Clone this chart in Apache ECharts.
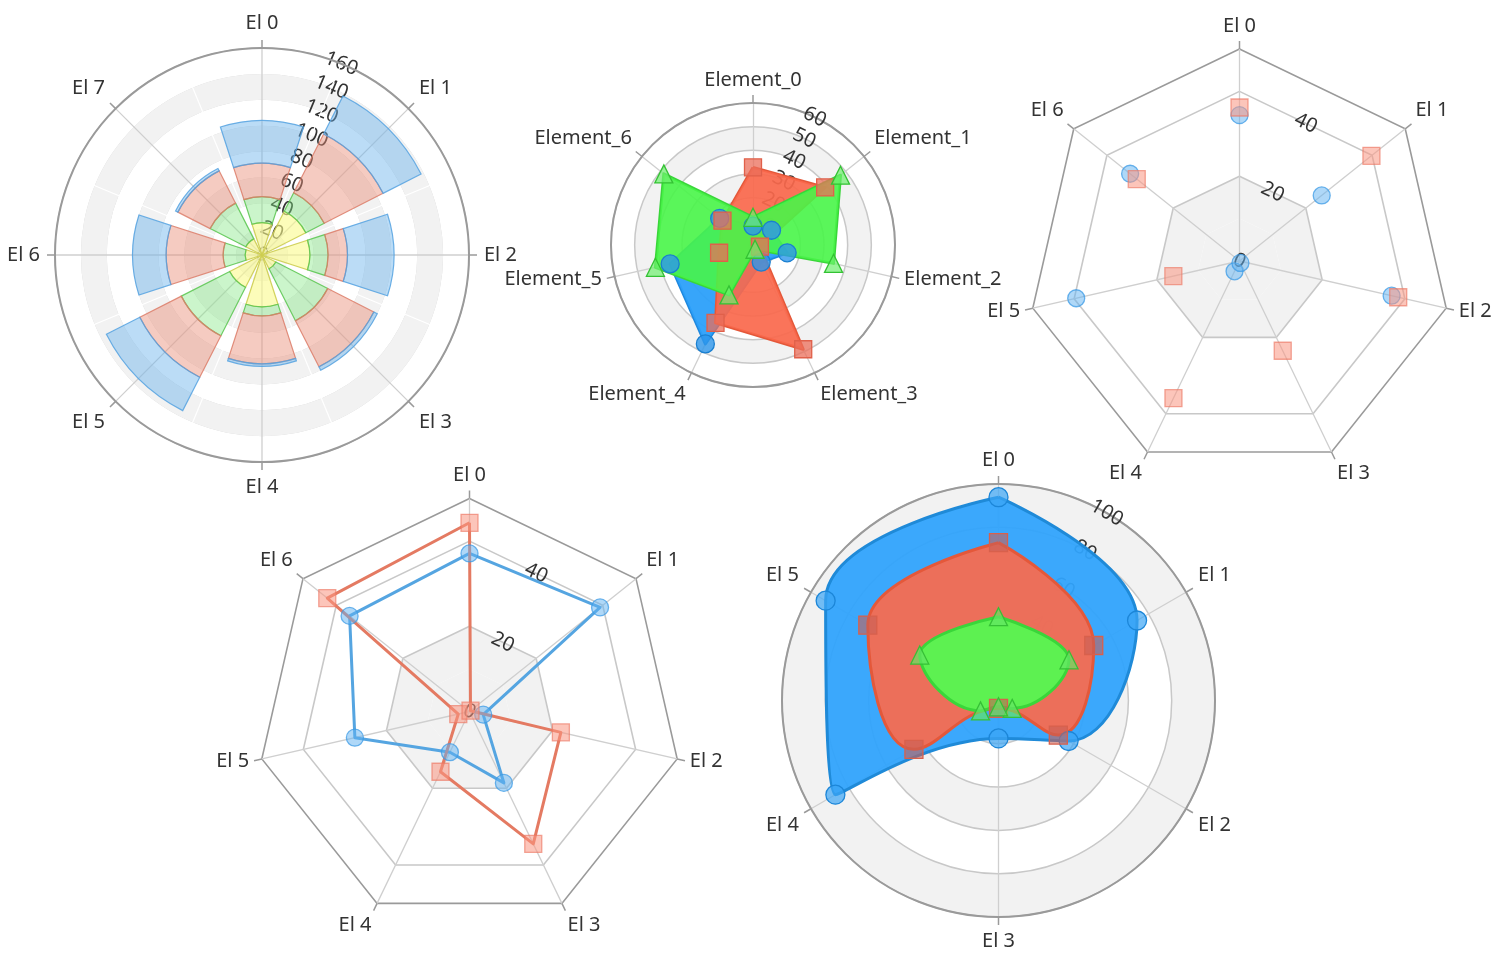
<!DOCTYPE html>
<html>
<head>
<meta charset="utf-8">
<script src="https://cdn.jsdelivr.net/npm/echarts@6/dist/echarts.min.js"></script>
<style>
html,body{margin:0;padding:0;background:#ffffff;}
#c{width:1511px;height:979px;}
</style>
</head>
<body>
<div id="c"></div>
<script>
// ---------------- data ----------------
// Chart 1 (stacked polar bars)
const c1Cats = ['El 0','El 1','El 2','El 3','El 4','El 5','El 6','El 7'];
const c1Yellow = [25, 38, 37, 12, 40, 28, 13, 14];
const c1Green  = [20, 16, 14, 45, 7, 42, 17, 31];
const c1Red    = [26, 51, 15, 40, 37, 36, 44, 28];
const c1Blue   = [33, 33, 36, 3, 2, 29, 26, 2];
const c1Max = 160, c1Step = 20;

// Chart 2 (circle radar, filled)
const c2Cats = ['Element_0','Element_1','Element_2','Element_3','Element_4','Element_5','Element_6'];
const c2Blue  = [8, 10, 14.8, 8, 46.4, 35.9, 18];
const c2Red   = [32.8, 39, 3, 48.9, 36.5, 14.7, 16.5];
const c2Green = [11.7, 47.3, 34.9, 2, 23.4, 42.3, 48.2];
const c2Max = 60, c2Step = 10;

// Chart 3 (polygon radar, markers only)
const c3Cats = ['El 0','El 1','El 2','El 3','El 4','El 5','El 6'];
const c3Blue = [34.4, 24.8, 36.8, 0.5, 2.7, 39.5, 33];
const c3Red  = [36.2, 39.8, 38.4, 23.5, 35.9, 16, 31];
const c3Max = 50, c3Step = 20;

// Chart 4 (polygon radar, lines)
const c4Cats = ['El 0','El 1','El 2','El 3','El 4','El 5','El 6'];
const c4Blue = [37.1, 39.2, 3.3, 18.6, 10.6, 27.6, 36];
const c4Red  = [44.3, 0.3, 22, 34.5, 15.7, 2.7, 42.7];
const c4Max = 50, c4Step = 20;

// Chart 5 (circle, smooth filled areas)
const c5Cats = ['El 0','El 1','El 2','El 3','El 4','El 5'];
const c5Blue  = [93.9, 73.9, 37.4, 17.5, 87, 92.2];
const c5Red   = [72.9, 50.8, 31.9, 3.6, 45.1, 69.7];
const c5Green = [38.7, 37.6, 7.3, 2.9, 9.6, 42];
const c5Max = 100, c5Step = 20;

// ---------------- styling helpers ----------------
const FONT = '"Noto Sans", "DejaVu Sans", sans-serif';
const TXT = '#333333';
const GRIDC = '#c8c8c8';
const EDGE = '#9a9a9a';
const NONE = 'rgba(0,0,0,0)';

const polar = [], angleAxis = [], radiusAxis = [], radar = [], series = [];

function addPolar(center, radius, a, r) {
  const i = polar.length;
  polar.push({center: center, radius: radius});
  angleAxis.push(Object.assign({polarIndex: i}, a));
  radiusAxis.push(Object.assign({polarIndex: i}, r));
  return i;
}
// order items counter-clockwise (first stays on top) -> drawn clockwise on screen
function ccw(arr) { return [arr[0]].concat(arr.slice(1).reverse()); }

function tickAngleAxis(cats, margin, withLine, extra) {
  const w = 360 / cats.length;
  return Object.assign({
    type: 'category', data: ccw(cats), startAngle: 90 - w / 2, clockwise: false, boundaryGap: true,
    axisLine: {show: withLine, lineStyle: {color: EDGE, width: 2}},
    axisTick: {show: true, alignWithLabel: true, interval: 0, length: 8, lineStyle: {color: EDGE, width: 1.5}},
    axisLabel: {show: true, interval: 0, margin: margin, fontSize: 20, color: TXT, fontFamily: FONT},
    splitLine: {show: false},
    z: 1
  }, extra || {});
}
function labelRadiusAxis(max, step, n, extra) {
  return Object.assign({
    type: 'value', min: 0, max: max, interval: step,
    axisLine: {show: false}, axisTick: {show: false}, splitLine: {show: false},
    axisLabel: {show: true, rotate: -180 / n, margin: 0, align: 'center', verticalAlign: 'middle',
      fontSize: 20, color: TXT, fontFamily: FONT,
      formatter: function (v) { return (v === max && max % step !== 0) ? '' : String(v); }},
    z: 1
  }, extra || {});
}
function hiddenAngle(startAngle) {
  return {type: 'value', min: 0, max: 360, startAngle: startAngle,
    axisLine: {show: false}, axisTick: {show: false}, axisLabel: {show: false}, splitLine: {show: false}, z: 1};
}
function hiddenRadius(max) {
  return {type: 'value', min: 0, max: max,
    axisLine: {show: false}, axisTick: {show: false}, axisLabel: {show: false}, splitLine: {show: false}, z: 1};
}

// ---------------- Chart 1 ----------------
const c1Center = [262, 255], c1R = 207;
const p1 = addPolar(c1Center, c1R,
  tickAngleAxis(c1Cats, 15, true, {splitLine: {show: true, lineStyle: {color: '#cfcfcf', width: 1.3}}}),
  labelRadiusAxis(c1Max, c1Step, c1Cats.length, {
    splitLine: {show: true, lineStyle: {color: GRIDC, width: 1.5}},
    splitArea: {show: true, areaStyle: {color: ['#f2f2f2', '#ffffff']}},
    z: 0
  }));
// white sector boundaries
addPolar(c1Center, c1R,
  {type: 'category', data: c1Cats, startAngle: 90 - 180 / c1Cats.length, boundaryGap: false,
    axisLine: {show: false}, axisTick: {show: false}, axisLabel: {show: false},
    splitLine: {show: true, interval: 0, lineStyle: {color: '#ffffff', width: 1.2}}, z: 0.5},
  hiddenRadius(c1Max));

function c1Bar(data, fill, border) {
  return {type: 'bar', coordinateSystem: 'polar', polarIndex: p1, stack: 'c1',
    data: ccw(data), barCategoryGap: '20%', silent: true, z: 2,
    itemStyle: {color: fill, borderColor: border, borderWidth: 1.2}};
}
series.push(c1Bar(c1Yellow, 'rgba(250,250,140,0.6)', 'rgba(205,205,80,0.9)'));
series.push(c1Bar(c1Green, 'rgba(130,230,130,0.42)', 'rgba(95,200,85,0.9)'));
series.push(c1Bar(c1Red, 'rgba(232,140,118,0.45)', 'rgba(220,125,105,0.85)'));
series.push(c1Bar(c1Blue, 'rgba(105,178,235,0.45)', 'rgba(85,162,225,0.85)'));

// ---------------- Chart 2 ----------------
const c2Center = [753, 245], c2R = 142;
const r2 = radar.length;
radar.push({
  center: c2Center, radius: c2R, shape: 'circle', startAngle: 90, splitNumber: c2Max / c2Step,
  indicator: ccw(c2Cats).map(function (n) { return {name: n, min: 0, max: c2Max}; }),
  axisName: {show: false},
  axisLine: {lineStyle: {color: '#cfcfcf', width: 1.3}},
  splitLine: {lineStyle: {color: GRIDC, width: 1.5}},
  splitArea: {show: true, areaStyle: {color: ['#f2f2f2', '#ffffff']}},
  z: 0
});
addPolar(c2Center, c2R, tickAngleAxis(c2Cats, 13, true), labelRadiusAxis(c2Max, c2Step, c2Cats.length));

function radarSeries(ri, values, o) {
  return {type: 'radar', radarIndex: ri, silent: true, z: 2,
    data: [{value: ccw(values), symbol: o.symbol, symbolSize: o.size,
      itemStyle: {color: o.fill, borderColor: o.border, borderWidth: 1.3},
      lineStyle: o.line ? {color: o.line, width: 3} : {width: 0, opacity: 0},
      areaStyle: o.area ? {color: o.area, opacity: 1} : undefined}]};
}
series.push(radarSeries(r2, c2Blue, {symbol: 'circle', size: 18, fill: 'rgba(45,150,235,0.8)', border: '#1a7fd0', line: '#1f88de', area: 'rgba(44,160,250,0.95)'}));
series.push(radarSeries(r2, c2Red, {symbol: 'rect', size: 17, fill: 'rgba(235,110,90,0.75)', border: '#e0604a', line: '#e4583a', area: 'rgba(250,104,76,0.92)'}));
series.push(radarSeries(r2, c2Green, {symbol: 'triangle', size: 18, fill: 'rgba(110,240,110,0.7)', border: '#33c233', line: '#3ad63a', area: 'rgba(72,245,72,0.9)'}));

// ---------------- polygon charts 3 & 4 ----------------
function polygonRadar(center, R, cats, max, step) {
  const ri = radar.length;
  const n = max / 10;
  const lineCols = [], areaCols = [];
  for (let i = 0; i <= n; i++) {
    const v = i * 10;
    lineCols.push(v === max ? EDGE : (v > 0 && v % step === 0 ? GRIDC : NONE));
    if (i < n) areaCols.push(v < step ? '#f2f2f2' : '#ffffff');
  }
  radar.push({
    center: center, radius: R, shape: 'polygon', startAngle: 90, splitNumber: n,
    indicator: ccw(cats).map(function (c) { return {name: c, min: 0, max: max}; }),
    axisName: {show: false},
    axisLine: {lineStyle: {color: '#cfcfcf', width: 1.3}},
    splitLine: {lineStyle: {color: lineCols, width: 1.6}},
    splitArea: {show: true, areaStyle: {color: areaCols}},
    z: 0
  });
  const nn = cats.length;
  addPolar(center, R, tickAngleAxis(cats, 13, false), hiddenRadius(max));
  addPolar(center, R * Math.cos(Math.PI / nn), hiddenAngle(90 - 180 / nn), labelRadiusAxis(max, step, nn));
  return ri;
}

const c3Center = [1239.5, 261], c3R = 212;
const r3 = polygonRadar(c3Center, c3R, c3Cats, c3Max, c3Step);
series.push(radarSeries(r3, c3Blue, {symbol: 'circle', size: 17, fill: 'rgba(95,178,242,0.5)', border: 'rgba(60,155,230,0.75)'}));
series.push(radarSeries(r3, c3Red, {symbol: 'rect', size: 17, fill: 'rgba(250,150,130,0.55)', border: 'rgba(236,120,100,0.65)'}));

const c4Center = [469.5, 711.5], c4R = 213;
const r4 = polygonRadar(c4Center, c4R, c4Cats, c4Max, c4Step);
series.push(radarSeries(r4, c4Blue, {symbol: 'circle', size: 17, fill: 'rgba(95,178,242,0.5)', border: 'rgba(60,155,230,0.75)', line: 'rgb(85,165,225)'}));
series.push(radarSeries(r4, c4Red, {symbol: 'rect', size: 17, fill: 'rgba(250,150,130,0.55)', border: 'rgba(236,120,100,0.65)', line: 'rgb(228,122,98)'}));

// ---------------- Chart 5 ----------------
const c5Center = [998.5, 700.5], c5R = 216.5;
radar.push({
  center: c5Center, radius: c5R, shape: 'circle', startAngle: 90, splitNumber: c5Max / c5Step,
  indicator: c5Cats.map(function (n) { return {name: n, min: 0, max: c5Max}; }),
  axisName: {show: false},
  axisLine: {lineStyle: {color: '#cfcfcf', width: 1.3}},
  splitLine: {lineStyle: {color: GRIDC, width: 1.5}},
  splitArea: {show: true, areaStyle: {color: ['#f2f2f2', '#ffffff']}},
  z: 0
});
addPolar(c5Center, c5R, tickAngleAxis(c5Cats, 14, true), labelRadiusAxis(c5Max, c5Step, c5Cats.length));
const p5 = addPolar(c5Center, c5R, hiddenAngle(90), hiddenRadius(c5Max));

function smoothLoop(values, o) {
  const step = 360 / values.length;
  const data = values.map(function (v, i) { return {value: [v, i * step]}; });
  data.push({value: [values[0], 360], symbol: 'none'});
  return {type: 'line', coordinateSystem: 'polar', polarIndex: p5, smooth: 0.45, clip: false, silent: true, z: 2,
    symbol: o.symbol, symbolSize: o.size, showSymbol: true,
    itemStyle: {color: o.fill, borderColor: o.border, borderWidth: 1.3},
    lineStyle: {color: o.line, width: 3},
    areaStyle: {color: o.area, opacity: 1},
    data: data};
}
series.push(smoothLoop(c5Blue, {symbol: 'circle', size: 19, fill: 'rgba(60,165,245,0.7)', border: '#1c86d8', line: '#1f8ad8', area: 'rgba(48,163,252,0.95)'}));
series.push(smoothLoop(c5Red, {symbol: 'rect', size: 18, fill: 'rgba(200,95,85,0.6)', border: '#d8604c', line: '#e4583a', area: 'rgba(250,106,78,0.93)'}));
series.push(smoothLoop(c5Green, {symbol: 'triangle', size: 18, fill: 'rgba(100,230,100,0.7)', border: '#36c036', line: '#3ad63a', area: 'rgba(80,252,80,0.92)'}));

// ---------------- render ----------------
const chart = echarts.init(document.getElementById('c'), null, {renderer: 'canvas'});
chart.setOption({
  animation: false,
  backgroundColor: '#ffffff',
  textStyle: {fontFamily: FONT},
  polar: polar,
  angleAxis: angleAxis,
  radiusAxis: radiusAxis,
  radar: radar,
  series: series
});
</script>
</body>
</html>
